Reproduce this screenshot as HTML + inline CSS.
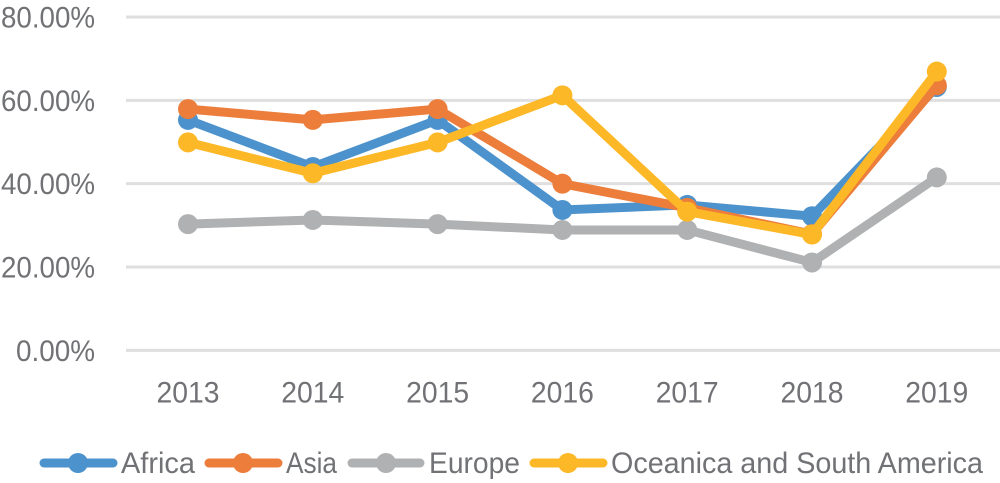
<!DOCTYPE html>
<html lang="en">
<head>
<meta charset="utf-8">
<title>Regional percentages 2013–2019</title>
<style>
  html, body { margin: 0; padding: 0; background: #fff; }
  svg { display: block; }
  text { font-family: "Liberation Sans", sans-serif; font-size: 30px; fill: #717275; }
</style>
</head>
<body>
<svg id="chart" width="1000" height="483" viewBox="0 0 1000 483" xmlns="http://www.w3.org/2000/svg">
  <g id="grid"></g>
  <g id="y-labels"></g>
  <g id="x-labels"></g>
  <g id="series"></g>
  <g>
    <g>
      <line x1="44" y1="463" x2="113" y2="463" stroke="#4c92cc" stroke-width="9" stroke-linecap="round"/>
      <circle cx="78" cy="463" r="10" fill="#4c92cc"/>
      <text x="121" y="473" textLength="74" lengthAdjust="spacingAndGlyphs">Africa</text>
    </g>
    <g>
      <line x1="209" y1="463" x2="278" y2="463" stroke="#ec7d3b" stroke-width="9" stroke-linecap="round"/>
      <circle cx="243" cy="463" r="10" fill="#ec7d3b"/>
      <text x="286" y="473" textLength="51" lengthAdjust="spacingAndGlyphs">Asia</text>
    </g>
    <g>
      <line x1="352" y1="463" x2="420" y2="463" stroke="#b0b1b2" stroke-width="9" stroke-linecap="round"/>
      <circle cx="386" cy="463" r="10" fill="#b0b1b2"/>
      <text x="429" y="473" textLength="91" lengthAdjust="spacingAndGlyphs">Europe</text>
    </g>
    <g>
      <line x1="534" y1="463" x2="603" y2="463" stroke="#fdb827" stroke-width="9" stroke-linecap="round"/>
      <circle cx="568" cy="463" r="10" fill="#fdb827"/>
      <text x="611" y="473" textLength="372" lengthAdjust="spacingAndGlyphs">Oceanica and South America</text>
    </g>
  </g>
</svg>
<script>
const categories = ['2013', '2014', '2015', '2016', '2017', '2018', '2019'];
const yTicks = [0, 20, 40, 60, 80];
const africa = [55.3, 44.0, 55.3, 33.7, 34.9, 32.2, 63.2];
const asia = [57.9, 55.3, 57.9, 40.0, 34.2, 27.9, 63.6];
const europe = [30.3, 31.3, 30.3, 28.9, 28.9, 21.1, 41.5];
const oceanica = [49.9, 42.5, 49.9, 61.2, 33.3, 27.8, 66.9];

const NS = 'http://www.w3.org/2000/svg';
const plotLeft = 126, plotRight = 1000;
const yZero = 350.4, pxPerUnit = 4.168;
const xFirst = 188, xStep = 124.8;

function xScale(i) { return xFirst + i * xStep; }
function yScale(v) { return yZero - v * pxPerUnit; }

function make(tag, attrs) {
  const el = document.createElementNS(NS, tag);
  for (const k in attrs) el.setAttribute(k, attrs[k]);
  return el;
}

const gridGroup = document.getElementById('grid');
const yLabelGroup = document.getElementById('y-labels');
yTicks.forEach(function (t) {
  const line = make('line', { x1: plotLeft, x2: plotRight, y1: yScale(t), y2: yScale(t), stroke: '#dfdfdf', 'stroke-width': 3 });
  
  
  gridGroup.appendChild(line);
  const str = t.toFixed(2) + '%';
  const label = make('text', { x: 95, y: yScale(t) + 10.5, 'text-anchor': 'end', textLength: str.length === 6 ? 94 : 79, lengthAdjust: 'spacingAndGlyphs' });
  label.textContent = str;
  
  
  yLabelGroup.appendChild(label);
});

const xLabelGroup = document.getElementById('x-labels');
categories.forEach(function (c, i) {
  const label = make('text', { x: xScale(i), y: 402.5, 'text-anchor': 'middle', textLength: 63, lengthAdjust: 'spacingAndGlyphs' });
  label.textContent = c;
  
  
  xLabelGroup.appendChild(label);
});

function drawSeries(values, color, seriesName) {
  const group = make('g', {});
  
  
  const pts = values.map(function (v, i) { return xScale(i) + ',' + yScale(v); }).join(' ');
  const line = make('polyline', { points: pts, fill: 'none', stroke: color, 'stroke-width': 9, 'stroke-linejoin': 'round', 'stroke-linecap': 'round' });
  
  
  group.appendChild(line);
  values.forEach(function (v, i) {
    const dot = make('circle', { cx: xScale(i), cy: yScale(v), r: 10, fill: color });
    
    
    group.appendChild(dot);
  });
  document.getElementById('series').appendChild(group);
}

drawSeries(africa, '#4c92cc', 'series-africa');
drawSeries(asia, '#ec7d3b', 'series-asia');
drawSeries(europe, '#b0b1b2', 'series-europe');
drawSeries(oceanica, '#fdb827', 'series-oceanica-and-south-america');
</script>
</body>
</html>
